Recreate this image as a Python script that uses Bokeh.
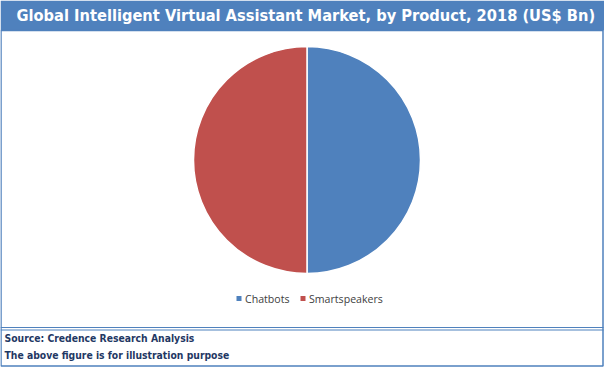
import math
from bokeh.plotting import figure
from bokeh.models import Range1d, Label, ColumnDataSource
from bokeh.embed import file_html
from bokeh.resources import INLINE
from bokeh.core.properties import value

# ---- data ----
title_text = "Global Intelligent Virtual Assistant Market, by Product, 2018 (US$ Bn)"
categories = ["Chatbots", "Smartspeakers"]
values = [50.0, 50.0]
colors = ["#4F81BD", "#C0504D"]
footer_lines = ["Source: Credence Research Analysis",
                "The above figure is for illustration purpose"]

# ---- layout ----
W, H = 604, 367
BLUE = "#4F81BD"
NAVY = "#1F3864"

p = figure(width=W, height=H, x_range=Range1d(0, W), y_range=Range1d(0, H),
           output_backend="svg", toolbar_location=None, min_border=0,
           x_axis_location=None, y_axis_location=None)
p.xgrid.visible = False
p.ygrid.visible = False
p.outline_line_color = None
p.background_fill_color = "white"
p.border_fill_color = "white"

def Y(y):
    return H - y

# title bar
p.quad(left=0, right=W, bottom=Y(30), top=Y(0), fill_color=BLUE, line_color=None)
# frame
p.quad(left=0.5, right=602.5, bottom=Y(365.5), top=Y(30), fill_color=None,
       line_color=BLUE, line_width=1.5)
# double separator
p.segment(x0=[0, 0], y0=[Y(327), Y(329.5)], x1=[603, 603], y1=[Y(327), Y(329.5)],
          line_color=BLUE, line_width=1.2)

p.add_layout(Label(x=16, y=Y(15), text=title_text, text_color="white",
                   text_font="DejaVu Sans Condensed", text_font_style="bold",
                   text_font_size="16.3px", text_baseline="middle"))

# pie
total = sum(values)
starts, ends = [], []
a = math.pi / 2
for v in values:
    starts.append(a)
    a = a - 2 * math.pi * v / total
    ends.append(a)
src = ColumnDataSource(dict(cat=categories, val=values, start=starts, end=ends, color=colors))
p.wedge(x=306.5, y=Y(159.5), radius=113.5, start_angle="start", end_angle="end",
        direction="clock", fill_color="color", line_color="white", line_width=1.5,
        source=src)

# legend
leg_x = [238.5, 302.5]
leg_y = Y(298)
p.scatter(x=leg_x, y=[leg_y] * len(categories), marker="square", size=5,
          fill_color=colors, line_color=None)
p.text(x=[x + 6 for x in leg_x], y=[leg_y - 0.5] * len(categories), text=categories,
       text_font=value("Open Sans"), text_font_size="10.6px", text_color="#404040",
       text_baseline="middle")

# footer
for i, t in enumerate(footer_lines):
    p.add_layout(Label(x=4, y=Y(337 + 17.5 * i), text=t, text_color=NAVY,
                       text_font="DejaVu Sans Condensed", text_font_style="bold",
                       text_font_size="10.3px", text_baseline="middle"))

open("out.html", "w").write(file_html(p, INLINE))
